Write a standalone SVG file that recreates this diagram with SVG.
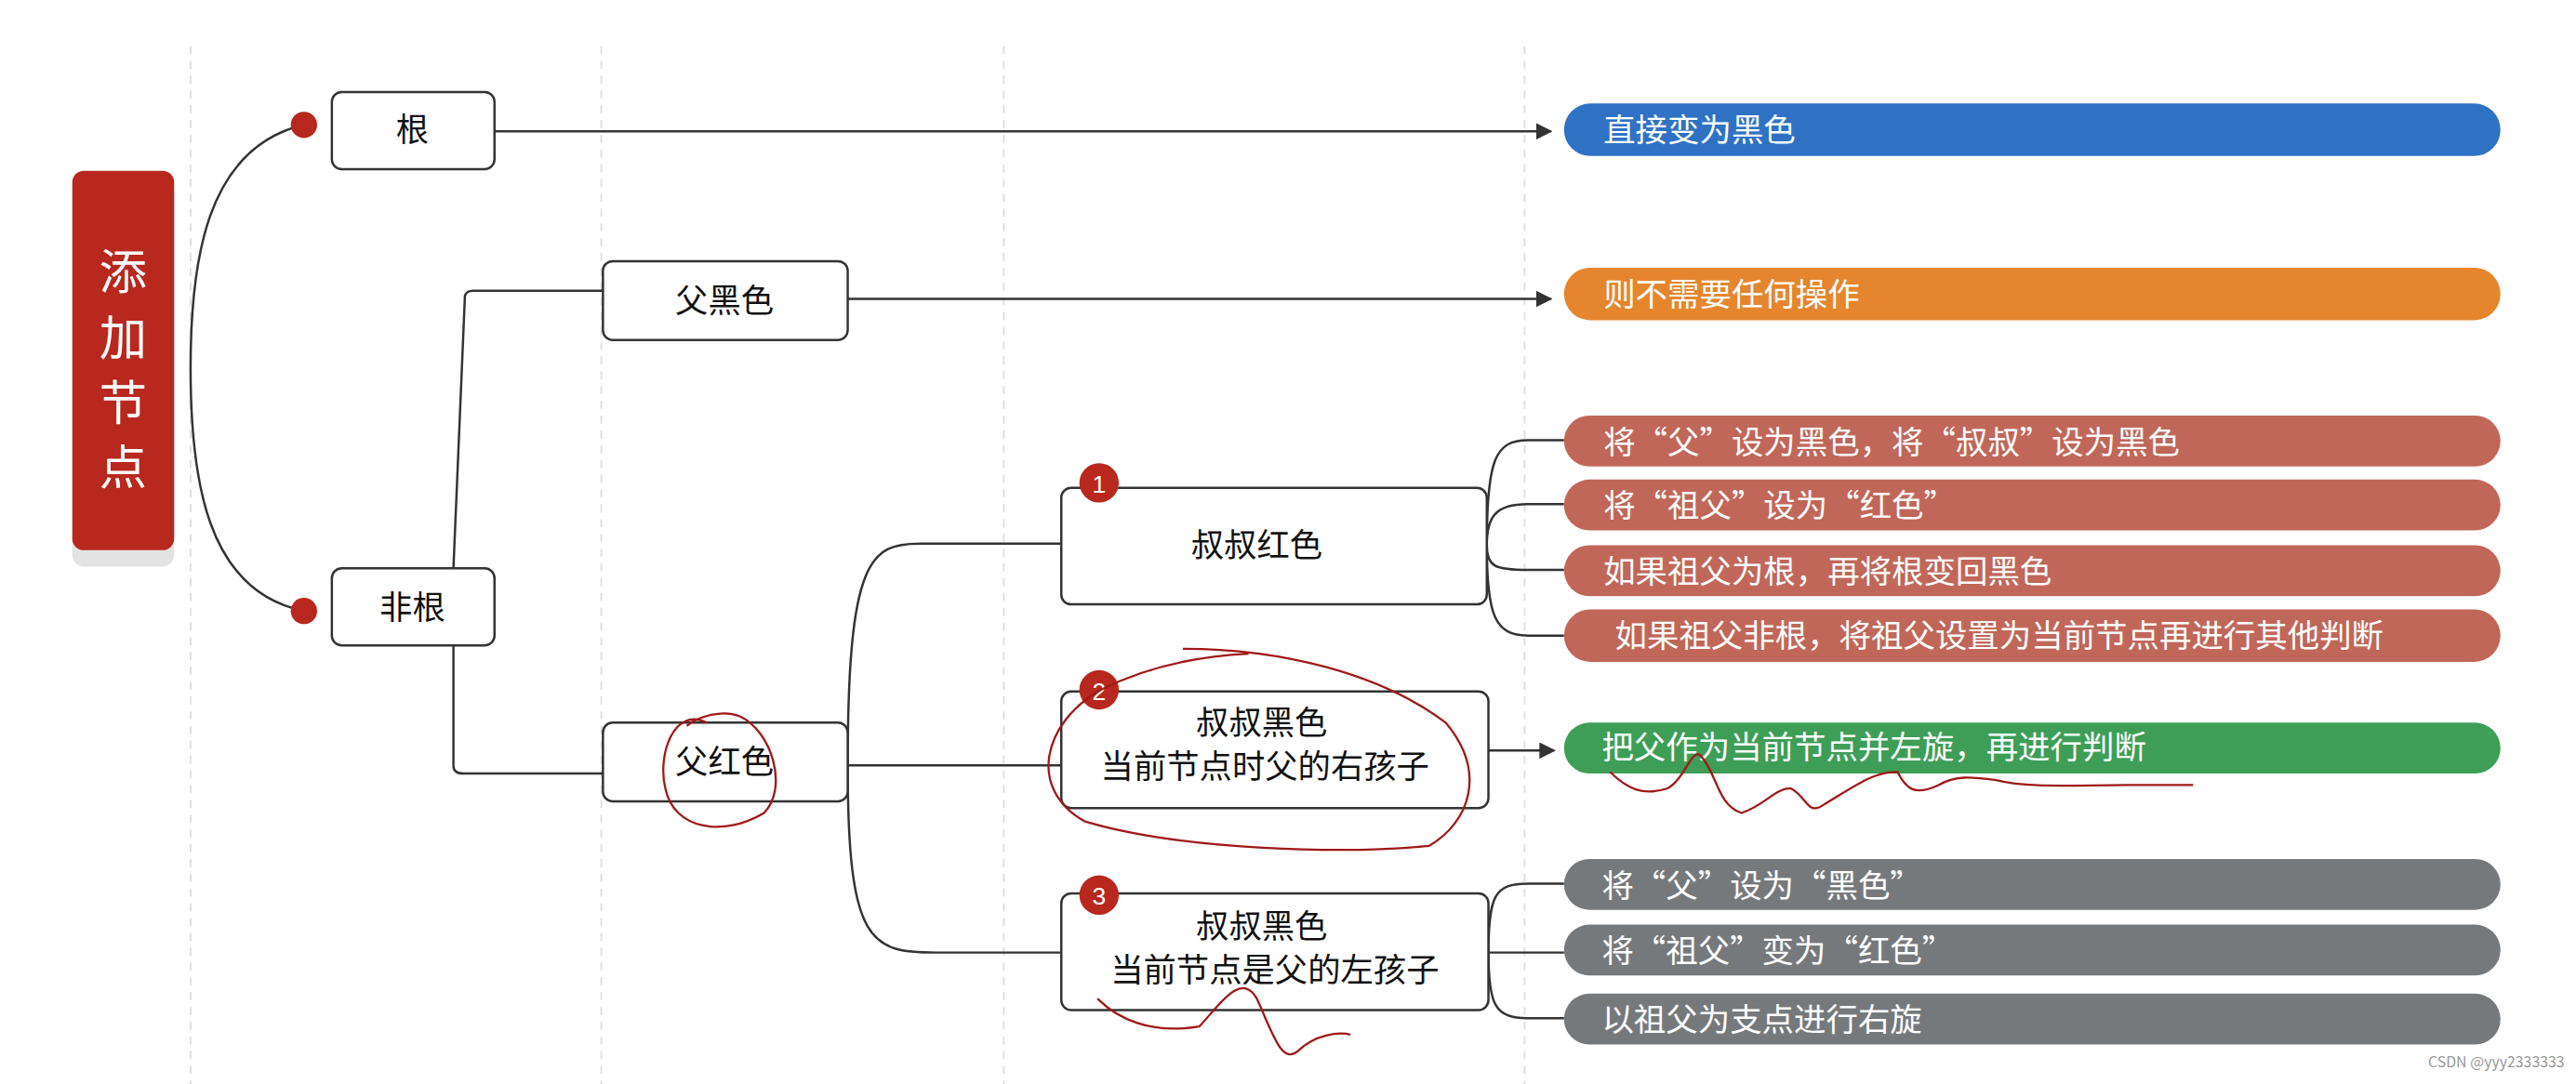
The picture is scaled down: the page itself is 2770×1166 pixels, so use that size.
<svg xmlns="http://www.w3.org/2000/svg" width="2770" height="1166" viewBox="0 0 2770 1166">
<style>
text{font-family:"Noto Sans CJK SC","Liberation Sans",sans-serif}
.box{fill:#fff;stroke:#333;stroke-width:1.4}
.nt{font-size:20px;fill:#111;text-anchor:middle}
.pt{font-size:19.5px;fill:#fff}
.ln{fill:none;stroke:#333;stroke-width:1.4}
.dash{stroke:#ddd;stroke-width:1;stroke-dasharray:5 4}
.ink{fill:none;stroke:#a01818;stroke-width:1.3}
.badge{fill:#b8281e}
.bt{font-size:15px;fill:#fff;text-anchor:middle;font-family:"Liberation Sans",sans-serif}
</style>
<defs><marker id="ar" markerWidth="10" markerHeight="10" refX="9" refY="5" orient="auto" markerUnits="userSpaceOnUse"><path d="M0,0 L10,5 L0,10 z" fill="#333"/></marker></defs>
<rect width="2770" height="1166" fill="#fff"/>
<g transform="scale(1.7666)">
<g id="guides"><line class="dash" x1="116" y1="28" x2="116" y2="660"/><line class="dash" x1="366" y1="28" x2="366" y2="660"/><line class="dash" x1="611" y1="28" x2="611" y2="660"/><line class="dash" x1="928" y1="28" x2="928" y2="660"/></g>
<g id="connectors">
<path class="ln" d="M185,76 C125,90 116,160 116,224 C116,290 125,360 185,372"/>
<path class="ln" d="M301,80 H944" marker-end="url(#ar)"/>
<path class="ln" d="M516,182 H944" marker-end="url(#ar)"/>
<path class="ln" d="M276,346 L283,180 Q284,177 288,177 H367"/>
<path class="ln" d="M276,393 V466 Q276,471 282,471 H367"/>
<path class="ln" d="M516,466 C516,340 530,331 560,331 H646"/>
<path class="ln" d="M516,466 H646"/>
<path class="ln" d="M516,466 C516,575 530,580 570,580 H646"/>
<path class="ln" d="M906,457 H946" marker-end="url(#ar)"/>
<path class="ln" d="M905,332 C905,280 910,268 930,268 H952 M905,332 C905,315 910,307 930,307 H952 M905,332 C905,345 910,347 930,347 H952 M905,332 C905,375 910,387 930,387 H952"/>
<path class="ln" d="M906,580 C906,545 910,538 930,538 H952 M906,580 H952 M906,580 C906,612 910,620 930,620 H952"/>
</g>
<g id="title"><rect x="44" y="110" width="62" height="235" rx="7" fill="#e3e3e3"/><rect x="44" y="104" width="62" height="231" rx="7" fill="#b8281e"/>
<text x="75" y="176" font-size="29" fill="#fff" text-anchor="middle">添</text><text x="75" y="216" font-size="29" fill="#fff" text-anchor="middle">加</text><text x="75" y="256" font-size="29" fill="#fff" text-anchor="middle">节</text><text x="75" y="295" font-size="29" fill="#fff" text-anchor="middle">点</text></g>
<g id="n-root"><circle cx="185" cy="76" r="8" class="badge"/><rect class="box" x="202" y="56" width="99" height="47" rx="6"/><text class="nt" x="251" y="86">根</text></g>
<g id="n-nonroot"><circle cx="185" cy="372" r="8" class="badge"/><rect class="box" x="202" y="346" width="99" height="47" rx="6"/><text class="nt" x="251" y="377">非根</text></g>
<g id="n-pblack"><rect class="box" x="367" y="159" width="149" height="48" rx="6"/><text class="nt" x="441" y="190">父黑色</text></g>
<g id="n-pred"><rect class="box" x="367" y="440" width="149" height="48" rx="6"/><text class="nt" x="441" y="471">父红色</text></g>
<g id="n-c1"><rect class="box" x="646" y="297" width="259" height="71" rx="6"/><text class="nt" x="765" y="339">叔叔红色</text><circle cx="669" cy="294" r="12" class="badge"/><text class="bt" x="669" y="300">1</text></g>
<g id="n-c2"><rect class="box" x="646" y="421" width="260" height="71" rx="6"/><text class="nt" x="768" y="447">叔叔黑色</text><text class="nt" x="770" y="474">当前节点时父的右孩子</text><circle cx="669" cy="420" r="12" class="badge"/><text class="bt" x="669" y="426">2</text></g>
<g id="n-c3"><rect class="box" x="646" y="544" width="260" height="71" rx="6"/><text class="nt" x="768" y="571">叔叔黑色</text><text class="nt" x="776" y="598">当前节点是父的左孩子</text><circle cx="669" cy="545" r="12" class="badge"/><text class="bt" x="669" y="551">3</text></g>
<g id="r-blue"><rect x="952" y="63" width="570" height="32" rx="16" fill="#2f72c4"/><text class="pt" x="976" y="86">直接变为黑色</text></g>
<g id="r-orange"><rect x="952" y="163" width="570" height="32" rx="16" fill="#e5862f"/><text class="pt" x="976" y="186">则不需要任何操作</text></g>
<g id="r1"><rect x="952" y="253" width="570" height="31" rx="15.5" fill="#c0675a"/><text class="pt" x="976" y="276">将“父”设为黑色，将“叔叔”设为黑色</text></g>
<g id="r2"><rect x="952" y="292" width="570" height="31" rx="15.5" fill="#c0675a"/><text class="pt" x="976" y="315">将“祖父”设为“红色”</text></g>
<g id="r3"><rect x="952" y="332" width="570" height="31" rx="15.5" fill="#c0675a"/><text class="pt" x="976" y="355">如果祖父为根，再将根变回黑色</text></g>
<g id="r4"><rect x="952" y="371" width="570" height="32" rx="16" fill="#c0675a"/><text class="pt" x="983" y="394">如果祖父非根，将祖父设置为当前节点再进行其他判断</text></g>
<g id="g1"><rect x="952" y="440" width="570" height="31" rx="15.5" fill="#3e9e57"/><text class="pt" x="975" y="462">把父作为当前节点并左旋，再进行判断</text></g>
<g id="k1"><rect x="952" y="523" width="570" height="31" rx="15.5" fill="#76797c"/><text class="pt" x="975" y="546">将“父”设为“黑色”</text></g>
<g id="k2"><rect x="952" y="563" width="570" height="31" rx="15.5" fill="#76797c"/><text class="pt" x="975" y="586">将“祖父”变为“红色”</text></g>
<g id="k3"><rect x="952" y="605" width="570" height="31" rx="15.5" fill="#76797c"/><text class="pt" x="975" y="628">以祖父为支点进行右旋</text></g>
<g id="ink">
<path class="ink" d="M430,440 C410,430 400,460 405,480 C410,505 440,510 465,495 C480,480 470,445 450,436 C440,432 425,436 418,442"/>
<path class="ink" d="M720,395 C780,395 840,410 880,440 C905,470 895,500 870,515 C820,520 720,518 660,500 C625,480 635,440 670,420 C690,410 720,400 760,398"/>
<path class="ink" d="M980,470 C990,480 1000,485 1015,480 C1025,475 1030,455 1035,460 C1045,470 1045,490 1060,495 C1075,490 1080,480 1090,480 C1100,485 1100,497 1110,490 C1130,478 1140,470 1155,470 C1160,480 1165,485 1180,478 C1190,472 1200,473 1215,475 C1235,480 1260,478 1300,478 L1335,478"/>
<path class="ink" d="M668,608 C680,620 700,630 730,625 C740,615 755,590 765,608 C775,630 780,648 790,640 C800,630 815,628 822,630"/>
</g>
<text x="1478" y="650" font-size="9" fill="#999" font-family="Liberation Sans,sans-serif">CSDN @yyy2333333</text>
</g>
</svg>
